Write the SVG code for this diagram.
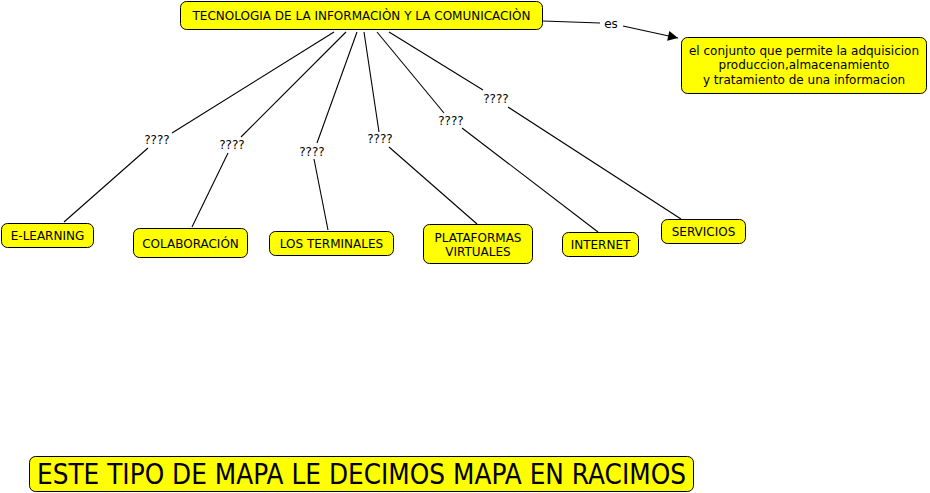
<svg xmlns="http://www.w3.org/2000/svg" width="930" height="493" viewBox="0 0 930 493">
<defs>
<style>
.box{fill:#ffff00;stroke:#000;stroke-width:1}
.t{font-family:"DejaVu Sans",Verdana,sans-serif;font-size:12px;fill:#000;text-anchor:middle}
.lbl{font-family:"DejaVu Sans",Verdana,sans-serif;font-size:12px;fill:#000;text-anchor:middle}
.ln{stroke:#000;stroke-width:1.1;fill:none}
</style>
<marker id="arr" viewBox="0 0 10 10" refX="10" refY="5" markerWidth="14" markerHeight="10" markerUnits="userSpaceOnUse" orient="auto">
<path d="M0,0 L10,5 L0,10 z" fill="#000"/>
</marker>
</defs>
<rect width="930" height="493" fill="#fff"/>
<g id="connectors">
<path class="ln" d="M334,32 L172,133"/><path class="ln" d="M148,148 L64,222"/>
<path class="ln" d="M346,32 L241,137"/><path class="ln" d="M228,153 L192,227"/>
<path class="ln" d="M357,32 L317,143"/><path class="ln" d="M314,159 L328,230"/>
<path class="ln" d="M364,32 L379,132"/><path class="ln" d="M389,147 L477,224"/>
<path class="ln" d="M377,32 L444,113"/><path class="ln" d="M462,128 L598,232"/>
<path class="ln" d="M389,32 L483,90"/><path class="ln" d="M508,107 L681,219"/>
<path class="ln" d="M543,21 L600,23"/>
<path class="ln" d="M623,26 L678,38" marker-end="url(#arr)"/>
<text class="lbl" x="611" y="28">es</text>
<text class="lbl" x="157" y="144">????</text>
<text class="lbl" x="232" y="149">????</text>
<text class="lbl" x="312" y="156">????</text>
<text class="lbl" x="380" y="143">????</text>
<text class="lbl" x="451" y="125">????</text>
<text class="lbl" x="496" y="103">????</text>
</g>
<g id="n-tic"><rect class="box" x="180.5" y="1.5" width="362" height="28" rx="6"/><text class="t" x="361.5" y="20">TECNOLOGIA DE LA INFORMACIÒN Y LA COMUNICACIÒN</text></g>
<g id="n-def"><rect class="box" x="681.5" y="37.5" width="245" height="56" rx="6"/><text class="t" x="804" y="54.5">el conjunto que permite la adquisicion</text><text class="t" x="804" y="68.5">produccion,almacenamiento</text><text class="t" x="804" y="83.5">y tratamiento de una informacion</text></g>
<g id="n-elearning"><rect class="box" x="1.5" y="223.5" width="92" height="24" rx="6"/><text class="t" x="47.5" y="240">E-LEARNING</text></g>
<g id="n-colab"><rect class="box" x="133.5" y="228.5" width="114" height="29" rx="6"/><text class="t" x="190.5" y="247.5">COLABORACIÓN</text></g>
<g id="n-term"><rect class="box" x="269.5" y="231.5" width="124" height="24" rx="6"/><text class="t" x="331.5" y="248">LOS TERMINALES</text></g>
<g id="n-plat"><rect class="box" x="423.5" y="224.5" width="109" height="39" rx="6"/><text class="t" x="478" y="241.5">PLATAFORMAS</text><text class="t" x="478" y="255.5">VIRTUALES</text></g>
<g id="n-internet"><rect class="box" x="562.5" y="232.5" width="76" height="24" rx="6"/><text class="t" x="600.5" y="249">INTERNET</text></g>
<g id="n-serv"><rect class="box" x="661.5" y="219.5" width="84" height="24" rx="6"/><text class="t" x="703.5" y="236">SERVICIOS</text></g>
<g id="n-bottom"><rect class="box" x="29.5" y="456.5" width="664" height="35" rx="6"/><text class="t" x="361.5" y="484" style="font-size:28px" textLength="649" lengthAdjust="spacingAndGlyphs">ESTE TIPO DE MAPA LE DECIMOS MAPA EN RACIMOS</text></g>
</svg>
